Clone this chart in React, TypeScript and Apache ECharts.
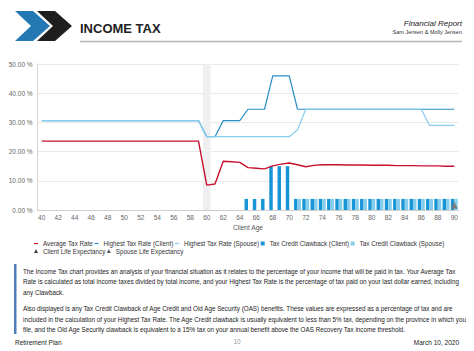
import React, { useEffect, useRef } from 'react';
import * as echarts from 'echarts';

const ages = ['40','41','42','43','44','45','46','47','48','49','50','51','52','53','54','55','56','57','58','59','60','61','62','63','64','65','66','67','68','69','70','71','72','73','74','75','76','77','78','79','80','81','82','83','84','85','86','87','88','89','90'];

const averageTaxRate = [
  23.6,23.6,23.6,23.6,23.6,23.6,23.6,23.6,23.6,23.6,23.6,23.6,23.6,23.6,23.6,23.6,23.6,23.6,23.6,23.6,
  8.5,8.9,16.7,16.5,16.3,14.5,14.3,14.1,15.1,15.7,16.1,15.5,14.8,15.3,15.5,15.5,15.5,15.4,15.4,15.4,
  15.3,15.3,15.3,15.2,15.2,15.2,15.1,15.1,15.1,15.0,15.0
];

const highestClient = [
  30.6,30.6,30.6,30.6,30.6,30.6,30.6,30.6,30.6,30.6,30.6,30.6,30.6,30.6,30.6,30.6,30.6,30.6,30.6,30.6,
  25.1,25.1,30.6,30.6,30.6,34.5,34.5,34.5,45.9,45.9,45.9,
  34.5,34.5,34.5,34.5,34.5,34.5,34.5,34.5,34.5,34.5,34.5,34.5,34.5,34.5,34.5,34.5,34.5,34.5,34.5,34.5
];

const highestSpouse = [
  30.6,30.6,30.6,30.6,30.6,30.6,30.6,30.6,30.6,30.6,30.6,30.6,30.6,30.6,30.6,30.6,30.6,30.6,30.6,30.6,
  25.1,25.1,25.1,25.1,25.1,25.1,25.1,25.1,25.1,25.1,25.1,
  27.5,
  34.5,34.5,34.5,34.5,34.5,34.5,34.5,34.5,34.5,34.5,34.5,34.5,34.5,34.5,34.5,
  29.0,29.0,29.0,29.0
];

const clawbackClient = [
  null,null,null,null,null,null,null,null,null,null,null,null,null,null,null,null,null,null,null,null,
  null,null,null,null,null,
  3.8,3.8,3.8,15,15,15,
  3.8,3.8,3.8,3.8,3.8,3.8,3.8,3.8,3.8,3.8,3.8,3.8,3.8,3.8,3.8,3.8,3.8,3.8,3.8,3.8
];

const clawbackSpouse = [
  null,null,null,null,null,null,null,null,null,null,null,null,null,null,null,null,null,null,null,null,
  null,null,null,null,null,null,null,null,null,null,null,
  3.8,3.8,3.8,3.8,3.8,3.8,3.8,3.8,3.8,3.8,3.8,3.8,3.8,3.8,3.8,3.8,3.8,3.8,3.8,3.8
];

const clientLifeExpectancy = [['90', 1.6]];
const spouseLifeExpectancy = [['90', 1.6]];
const retirementAge = [['60', 50]];

const yTicks = { min: 0, max: 50, interval: 10 };

const paragraph1 = [
  'The Income Tax chart provides an analysis of your financial situation as it relates to the percentage of your income that will be paid in tax. Your Average Tax',
  'Rate is calculated as total income taxes divided by total income, and your Highest Tax Rate is the percentage of tax paid on your last dollar earned, including',
  'any Clawback.'
];
const paragraph2 = [
  'Also displayed is any Tax Credit Clawback of Age Credit and Old Age Security (OAS) benefits. These values are expressed as a percentage of tax and are',
  'included in the calculation of your Highest Tax Rate. The Age Credit clawback is usually equivalent to less than 5% tax, depending on the province in which you',
  'file, and the Old Age Security clawback is equivalent to a 15% tax on your annual benefit above the OAS Recovery Tax income threshold.'
];

const FONT = '"Liberation Sans", Arial, sans-serif';
const DASH_ICON = 'path://M0,0 M8,8 M0,2.8 H8 V5.2 H0 Z';

export default function App() {
  const ref = useRef<HTMLDivElement>(null);
  useEffect(() => {
    if (!ref.current) return;
    const chart = echarts.init(ref.current, undefined, { renderer: 'svg' });

    const textEls: any[] = [];
    const p1y = [271, 281.5, 292];
    const p2y = [308.5, 319, 329.5];
    paragraph1.forEach((t, i) => textEls.push({
      type: 'text', x: 23, y: p1y[i],
      style: { text: t, font: `6.3px ${FONT}`, fill: '#222', textVerticalAlign: 'middle' }
    }));
    paragraph2.forEach((t, i) => textEls.push({
      type: 'text', x: 23, y: p2y[i],
      style: { text: t, font: `6.3px ${FONT}`, fill: '#222', textVerticalAlign: 'middle' }
    }));

    chart.setOption({
      animation: false,
      backgroundColor: '#ffffff',
      textStyle: { fontFamily: FONT },
      grid: { left: 37.6, right: 15.6, top: 64, bottom: 141, containLabel: false },
      legend: {
        left: 34, top: 240.5, width: 428, itemGap: 1.5, itemWidth: 4, itemHeight: 4,
        padding: 0,
        textStyle: { fontSize: 6.3, color: '#333', lineHeight: 6 },
        data: [
          { name: 'Average Tax Rate', icon: DASH_ICON },
          { name: 'Highest Tax Rate (Client)', icon: DASH_ICON },
          { name: 'Highest Tax Rate (Spouse)', icon: DASH_ICON },
          { name: 'Tax Credit Clawback (Client)', icon: 'rect' },
          { name: 'Tax Credit Clawback (Spouse)', icon: 'rect' },
          { name: 'Client Life Expectancy', icon: 'triangle' },
          { name: 'Spouse Life Expectancy', icon: 'triangle', itemStyle: { color: '#333' } }
        ]
      },
      xAxis: [
        {
          type: 'category', data: ages, boundaryGap: true,
          name: 'Client Age', nameLocation: 'middle', nameGap: 14,
          nameTextStyle: { fontSize: 6.6, color: '#555' },
          axisLine: { lineStyle: { color: '#cfcfcf' } },
          axisTick: { show: false },
          axisLabel: { interval: 1, fontSize: 6.5, color: '#666', margin: 4 }
        },
        {
          type: 'category', data: ages, boundaryGap: true, show: false
        }
      ],
      yAxis: {
        type: 'value', min: yTicks.min, max: yTicks.max, interval: yTicks.interval,
        axisLine: { show: true, lineStyle: { color: '#d5d5d5' } },
        axisTick: { show: false },
        splitLine: { lineStyle: { color: '#e9e9e9' } },
        axisLabel: { fontSize: 6.5, color: '#666', margin: 5, formatter: (v: number) => v.toFixed(2) + ' %' }
      },
      series: [
        {
          name: 'Retirement', type: 'bar', xAxisIndex: 1, data: retirementAge,
          barWidth: '93%', itemStyle: { color: '#efefef' }, z: 1, silent: true,
          legendHoverLink: false
        },
        {
          name: 'Average Tax Rate', type: 'line', data: averageTaxRate, symbol: 'none',
          lineStyle: { color: '#c8102e', width: 1.4 }, itemStyle: { color: '#c8102e' }, z: 4
        },
        {
          name: 'Highest Tax Rate (Client)', type: 'line', data: highestClient, symbol: 'none',
          lineStyle: { color: '#2a8dc6', width: 1.2 }, itemStyle: { color: '#2a8dc6' }, z: 4
        },
        {
          name: 'Highest Tax Rate (Spouse)', type: 'line', data: highestSpouse, symbol: 'none',
          lineStyle: { color: '#84cdec', width: 1.2 }, itemStyle: { color: '#84cdec' }, z: 5
        },
        {
          name: 'Tax Credit Clawback (Client)', type: 'bar', data: clawbackClient,
          barGap: '0%', barCategoryGap: '16%', itemStyle: { color: '#1895d6' }, z: 3
        },
        {
          name: 'Tax Credit Clawback (Spouse)', type: 'bar', data: clawbackSpouse,
          barGap: '0%', barCategoryGap: '16%', itemStyle: { color: '#86cdee' }, z: 3
        },
        {
          name: 'Client Life Expectancy', type: 'scatter', data: clientLifeExpectancy,
          symbol: 'triangle', symbolSize: 6, itemStyle: { color: '#111111' }, z: 6
        },
        {
          name: 'Spouse Life Expectancy', type: 'scatter', data: spouseLifeExpectancy,
          symbol: 'triangle', symbolSize: [7, 7], itemStyle: { color: '#8f8f8f' }, z: 7
        }
      ],
      graphic: [
        { type: 'polygon', shape: { points: [[15,11],[33,11],[50,26],[33,41],[15,41],[31,26]] }, style: { fill: '#2479b5' } },
        { type: 'polygon', shape: { points: [[37,11],[55,11],[72,26],[55,41],[37,41],[53,26]] }, style: { fill: '#1e1e1e' } },
        { type: 'text', x: 80, y: 28, style: { text: 'INCOME TAX', font: `bold 13px ${FONT}`, fill: '#222', textVerticalAlign: 'middle' } },
        { type: 'line', shape: { x1: 80, y1: 41.5, x2: 462, y2: 41.5 }, style: { stroke: '#b5b5b5', lineWidth: 1.3 } },
        { type: 'text', x: 462, y: 23, style: { text: 'Financial Report', font: `italic 8px ${FONT}`, fill: '#222', textAlign: 'right', textVerticalAlign: 'middle' } },
        { type: 'text', x: 462, y: 32, style: { text: 'Sam Jensen & Molly Jensen', font: `5.5px ${FONT}`, fill: '#333', textAlign: 'right', textVerticalAlign: 'middle' } },
        { type: 'rect', shape: { x: 14, y: 264, width: 2.5, height: 70 }, style: { fill: '#4f7fb5' } },
        ...textEls,
        { type: 'text', x: 15, y: 342, style: { text: 'Retirement Plan', font: `6.5px ${FONT}`, fill: '#222', textVerticalAlign: 'middle' } },
        { type: 'text', x: 237, y: 341, style: { text: '10', font: `6.5px ${FONT}`, fill: '#999', textAlign: 'center', textVerticalAlign: 'middle' } },
        { type: 'text', x: 459, y: 342, style: { text: 'March 10, 2020', font: `6.5px ${FONT}`, fill: '#222', textAlign: 'right', textVerticalAlign: 'middle' } }
      ]
    });
    return () => chart.dispose();
  }, []);
  return <div ref={ref} style={{ position: 'fixed', left: 0, top: 0, width: 474, height: 351 }} />;
}
